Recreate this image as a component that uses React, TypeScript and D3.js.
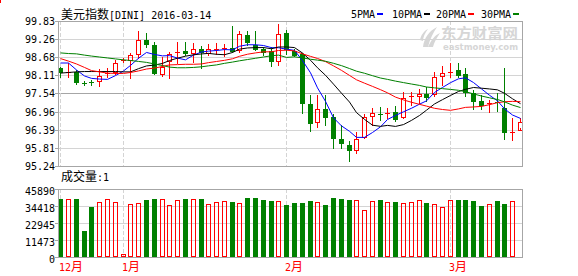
import React from 'react';
import * as d3 from 'd3';

// ---------- data ----------
const titleName = '美元指数';
const titleCode = '[DINI] 2016-03-14';
const volumeLabel = '成交量';
const volumeUnit = ':1';

const opens = [98.33, 98.20, 98.23, 97.88, 97.89, 97.93, 98.15, 98.20, 98.57, 98.58,
  98.78, 99.23, 99.06, 98.15, 98.55, 98.82, 98.89, 98.81, 98.94, 98.82,
  98.92, 98.93, 98.97, 98.90, 99.40, 99.08, 98.94, 98.89, 98.55, 99.44,
  98.88, 98.78, 97.20, 96.63, 97.04, 96.79, 96.11, 95.90, 95.75, 96.17,
  96.82, 96.88, 96.88, 96.95, 96.80, 97.42, 97.47, 97.51, 97.52, 98.10,
  98.20, 98.28, 98.14, 97.54, 97.30, 97.21, 97.27, 97.08, 96.30, 96.38];
const highs = [98.38, 98.50, 98.28, 97.93, 97.95, 98.31, 98.35, 98.60, 98.65, 98.82,
  99.50, 99.45, 99.17, 98.70, 98.84, 99.17, 99.17, 99.12, 99.03, 99.10,
  99.14, 99.10, 99.66, 99.52, 99.51, 99.50, 99.00, 99.02, 99.72, 99.55,
  98.95, 98.81, 97.49, 97.49, 97.49, 96.88, 96.55, 96.03, 96.33, 96.90,
  97.07, 97.10, 97.08, 97.13, 97.59, 97.59, 97.69, 97.75, 98.23, 98.40,
  98.50, 98.50, 98.33, 97.65, 97.50, 97.33, 97.56, 98.34, 96.75, 96.76];
const lows = [98.07, 98.05, 97.84, 97.80, 97.80, 97.78, 98.05, 98.14, 98.52, 98.02,
  98.65, 99.00, 98.14, 98.08, 98.04, 98.50, 98.74, 98.52, 98.33, 98.76,
  98.77, 98.72, 98.85, 98.85, 99.07, 98.92, 98.75, 98.40, 98.45, 98.78,
  98.72, 96.93, 96.35, 96.48, 96.54, 95.82, 95.82, 95.41, 95.64, 96.14,
  96.54, 96.70, 96.75, 96.67, 96.75, 97.17, 97.24, 97.30, 97.45, 97.80,
  98.07, 98.07, 97.46, 97.06, 97.06, 96.94, 96.97, 96.08, 96.06, 96.46];
const closes = [98.21, 98.22, 97.91, 97.86, 97.87, 98.10, 98.17, 98.51, 98.59, 98.75,
  99.23, 99.09, 98.19, 98.37, 98.79, 98.84, 98.81, 98.94, 98.86, 98.93,
  98.94, 98.96, 98.89, 99.43, 99.17, 98.94, 98.84, 98.55, 99.42, 98.94,
  98.75, 97.23, 96.61, 97.04, 96.80, 96.14, 95.96, 95.75, 96.08, 96.80,
  96.91, 96.86, 96.91, 96.72, 97.38, 97.47, 97.51, 97.43, 98.05, 98.17,
  98.23, 98.12, 97.59, 97.30, 97.16, 97.23, 97.23, 96.33, 96.32, 96.62];
const volumes = [39324, 38872, 38872, 17854, 33448, 37290, 39324, 37290, 2034, 35934,
  36612, 38194, 38872, 39324, 35256, 38646, 38872, 39324, 38872, 35934,
  37290, 37968, 37290, 36378, 39945, 39945, 38519, 37805, 38000, 35000,
  36612, 36612, 37968, 37290, 35256, 40002, 39324, 38646, 38646, 31866,
  37968, 38646, 37290, 37290, 36612, 37290, 38646, 36612, 35934, 33900,
  38646, 38646, 38646, 37968, 34578, 35934, 37968, 35934, 37968, 700];

// moving-average values before enough in-window closes exist
const ma5Lead = [98.50, 98.50, 98.28, 98.09];
const ma10Lead = [98.18, 98.20, 98.22, 98.23, 98.23, 98.23, 98.23, 98.23, 98.22];
const ma20Lead = [98.64, 98.56, 98.47, 98.36, 98.26, 98.22, 98.18, 98.17, 98.17, 98.20,
  98.25, 98.31, 98.34, 98.39, 98.44, 98.45, 98.46, 98.46, 98.47];
const ma30Lead = [98.82, 98.80, 98.79, 98.75, 98.72, 98.69, 98.66, 98.63, 98.60, 98.58,
  98.55, 98.52, 98.47, 98.42, 98.37, 98.35, 98.35, 98.36, 98.38, 98.41,
  98.44, 98.49, 98.53, 98.57, 98.61, 98.65, 98.69, 98.73, 98.75];

const priceTicks = [95.24, 95.81, 96.39, 96.96, 97.54, 98.11, 98.68, 99.26, 99.83];
const volumeTicks = [0, 11473, 22945, 34418, 45890];
const monthNumbers = ['12', '1', '2', '3'];
const monthStarts = [0, 8, 29, 50];
const legendNames = ['5PMA', '10PMA', '20PMA', '30PMA'];
const maPeriods = [5, 10, 20, 30];

// ---------- style ----------
const RED = '#ff0000';
const GREEN = '#008000';
const MA_COLORS = ['#0000ff', '#000000', '#ff0000', '#008000'];
const MONO = "'DejaVu Sans Mono', 'Liberation Mono', monospace";
const CJK = "'Noto Sans CJK SC', sans-serif";
const GRID = '#d4d4d4';
const BORDER = '#a6a6a6';

function movingAverage(period: number, lead: number[]) {
  return closes.map((_, i) => {
    if (i < period - 1) return lead[i];
    return d3.sum(closes.slice(i - period + 1, i + 1)) / period;
  });
}

export default function App() {
  const L = 58, R = 522;
  const mainTop = 21, mainBottom = 166;
  const volTop = 189, volBottom = 257;
  const idx = d3.range(closes.length);

  const x = d3.scaleBand<number>().domain(idx).range([58.3, 522.9]).paddingInner(0.358).paddingOuter(0);
  const y = d3.scaleLinear().domain([95.24, 99.83]).range([mainBottom, mainTop]);
  const yv = d3.scaleLinear().domain([0, 45890]).range([volBottom, volTop]);
  const lx = (i: number) => Math.round(x(i) as number);
  const cx = (i: number) => lx(i) + 2.5;

  const mas = [ma5Lead, ma10Lead, ma20Lead, ma30Lead].map((lead, k) => movingAverage(maPeriods[k], lead));
  const line = d3.line<number>().x((_, i) => cx(i)).y((v) => y(v));

  // legend layout
  const legendStarts = [351, 392, 436, 481];

  return (
    <svg width={578} height={276} style={{ position: 'absolute', left: 0, top: 0, background: '#fff' }}
      shapeRendering="crispEdges">
      <rect x={0} y={0} width={578} height={276} fill="#fff" />
      <rect x={0} y={0} width={1} height={3} fill={RED} />

      {/* title */}
      <text x={61} y={19} fontSize={12} fill="#000">
        <tspan fontFamily={CJK}>{titleName}</tspan>
        <tspan fontFamily={MONO} fontSize={10}>{titleCode}</tspan>
      </text>

      {/* legend */}
      {legendNames.map((n, k) => (
        <g key={n}>
          <text x={legendStarts[k]} y={18} fontFamily={MONO} fontSize={10} fill="#000">{n}</text>
          <rect x={legendStarts[k] + n.length * 6.02 + 2} y={13} width={6} height={2} fill={MA_COLORS[k]} />
        </g>
      ))}

      {/* watermark */}
      <g fill="#d6d6d6" stroke="none" shapeRendering="auto">
        <path d="M423,47 C424,38 429,31 437,27 C433,33 430,39 428,47 Z" />
        <path d="M428,47 C431,40 435,35 440,33 C437,38 434,42 433,47 Z" />
        <path d="M420,40 C421,35 424,31 428,29 C425,33 423,37 423,41 Z" />
        <text x={441} y={38} fontFamily={CJK} fontSize={14} fontWeight="bold"
          textLength={77} lengthAdjust="spacingAndGlyphs">东方财富网</text>
        <text x={443} y={50} fontFamily="'DejaVu Sans', sans-serif" fontSize={9} fontWeight="bold"
          textLength={75} lengthAdjust="spacingAndGlyphs">eastmoney.com</text>
      </g>

      {/* main grid */}
      {priceTicks.map((t) => {
        const yy = Math.round(y(t)) + 0.5;
        const mid = t === 97.54;
        return (
          <g key={t}>
            {t !== 95.24 && t !== 99.83 && (
              <line x1={L} x2={R} y1={yy} y2={yy} stroke={mid ? BORDER : GRID} />
            )}
            <line x1={L - 3} x2={L} y1={yy} y2={yy} stroke={BORDER} />
            <text x={55} y={yy + 3.5} textAnchor="end" fontFamily={MONO} fontSize={10} fill="#000">
              {t.toFixed(2)}
            </text>
          </g>
        );
      })}
      {volumeTicks.map((t) => {
        const yy = Math.round(yv(t)) + 0.5;
        return (
          <g key={t}>
            {t !== 0 && t !== 45890 && <line x1={L} x2={R} y1={yy} y2={yy} stroke={GRID} />}
            <line x1={L - 3} x2={L} y1={yy} y2={yy} stroke={BORDER} />
            <text x={55} y={yy + 5} textAnchor="end" fontFamily={MONO} fontSize={10} fill="#000">{t}</text>
          </g>
        );
      })}
      {monthStarts.map((m) => (
        <g key={m}>
          <line x1={Math.floor(cx(m)) + 0.5} x2={Math.floor(cx(m)) + 0.5} y1={mainTop} y2={mainBottom}
            stroke={GRID} strokeDasharray="4,2" />
          <line x1={Math.floor(cx(m)) + 0.5} x2={Math.floor(cx(m)) + 0.5} y1={volTop} y2={volBottom}
            stroke={GRID} strokeDasharray="4,2" />
        </g>
      ))}

      {/* candles */}
      {idx.map((i) => {
        const o = opens[i], c = closes[i], h = highs[i], l = lows[i];
        const up = c >= o;
        const col = up ? RED : GREEN;
        const left = lx(i);
        const yT = Math.round(y(Math.max(o, c)));
        const yB = Math.round(y(Math.min(o, c)));
        const yH = Math.round(y(h));
        const yL = Math.round(y(l));
        const wx = left + 2.5;
        if (yB - yT < 2) {
          return (
            <g key={i} stroke={col}>
              <line x1={wx} x2={wx} y1={yH} y2={yL + 1} />
              <line x1={left} x2={left + 5} y1={yT + 0.5} y2={yT + 0.5} />
            </g>
          );
        }
        if (up) {
          return (
            <g key={i} stroke={col} fill="none">
              <line x1={wx} x2={wx} y1={yH} y2={yT} />
              <line x1={wx} x2={wx} y1={yB} y2={yL + 1} />
              <rect x={left + 0.5} y={yT + 0.5} width={4} height={yB - yT} />
            </g>
          );
        }
        return (
          <g key={i}>
            <line x1={wx} x2={wx} y1={yH} y2={yL + 1} stroke={col} />
            <rect x={left} y={yT} width={5} height={yB - yT + 1} fill={col} />
          </g>
        );
      })}

      {/* moving averages */}
      {mas.map((vals, k) => (
        <path key={k} d={line(vals) || ''} fill="none" stroke={MA_COLORS[k]} strokeWidth={1}
          shapeRendering="auto" />
      ))}

      {/* volume */}
      <text x={61} y={181} fontSize={12} fill="#000">
        <tspan fontFamily={CJK}>{volumeLabel}</tspan>
        <tspan fontFamily={MONO} fontSize={10}>{volumeUnit}</tspan>
      </text>
      {idx.map((i) => {
        const up = closes[i] >= opens[i];
        const left = lx(i);
        const top = Math.round(yv(volumes[i]));
        if (up) {
          return <rect key={i} x={left + 0.5} y={top + 0.5} width={4} height={Math.max(volBottom - top - 1, 0)}
            fill="none" stroke={RED} />;
        }
        return <rect key={i} x={left} y={top} width={5} height={volBottom - top} fill={GREEN} />;
      })}

      {/* borders */}
      <rect x={L + 0.5} y={mainTop + 0.5} width={R - L} height={mainBottom - mainTop} fill="none" stroke={BORDER} />
      <rect x={L + 0.5} y={volTop + 0.5} width={R - L} height={volBottom - volTop} fill="none" stroke={BORDER} />

      {/* month labels */}
      {monthStarts.map((m, k) => (
        <text key={m} x={Math.max(58, cx(m) - 1.5)} y={271} fill={RED} fontSize={12}>
          <tspan fontFamily={MONO} fontSize={10}>{monthNumbers[k]}</tspan>
          <tspan fontFamily={CJK}>月</tspan>
        </text>
      ))}
    </svg>
  );
}
